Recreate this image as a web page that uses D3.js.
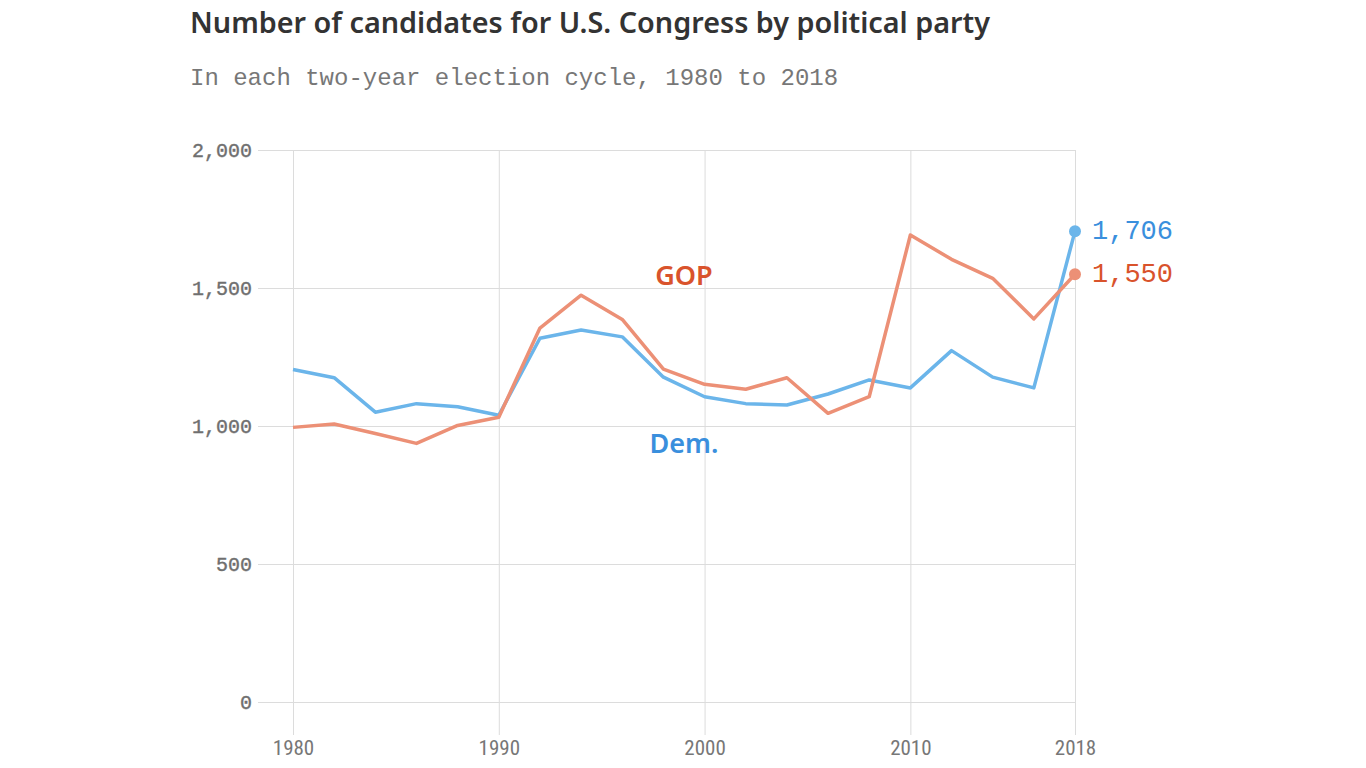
<!DOCTYPE html>
<html>
<head>
<meta charset="utf-8">
<script src="https://cdn.jsdelivr.net/npm/d3@7"></script>
<style>
  html, body { margin: 0; padding: 0; background: #fff; }
  svg { display: block; }
</style>
</head>
<body>
<svg id="chart" width="1366" height="768"></svg>
<script>
const years = [1980,1982,1984,1986,1988,1990,1992,1994,1996,1998,2000,2002,2004,2006,2008,2010,2012,2014,2016,2018];
const demValues = [1205,1175,1050,1081,1070,1039,1318,1348,1323,1177,1106,1081,1076,1116,1167,1138,1273,1177,1138,1706];
const gopValues = [995,1007,973,937,1002,1032,1355,1474,1386,1206,1151,1133,1175,1046,1106,1692,1604,1535,1388,1550];
const xTicks = [1980,1990,2000,2010,2018];
const yTicks = [0,500,1000,1500,2000];
const titleText = "Number of candidates for U.S. Congress by political party";
const subtitleText = "In each two-year election cycle, 1980 to 2018";

const svg = d3.select("#chart");
const x = d3.scaleLinear().domain([1980, 2018]).range([293, 1075]);
const y = d3.scaleLinear().domain([0, 2000]).range([702, 150]);

const demColor = "#6bb5ea", gopColor = "#ec9076";
const demText = "#3a8fdd", gopText = "#d9532c";

// Title
const title = svg.append("text").attr("x", 190).attr("y", 33)
  .attr("font-family", "'Noto Sans', sans-serif").attr("font-weight", 600)
  .attr("font-size", 28).attr("fill", "#333").text(titleText);
const tw = title.node().getComputedTextLength();
if (Math.abs(tw - 800) > 10) title.attr("textLength", 800).attr("lengthAdjust", "spacingAndGlyphs");

svg.append("text").attr("x", 190).attr("y", 85)
  .attr("font-family", "'Liberation Mono', monospace")
  .attr("font-size", 24).attr("fill", "#777").text(subtitleText);

// Y axis grid
const yAxis = d3.axisLeft(y).tickValues(yTicks).tickSize(1075 - 258)
  .tickFormat(d3.format(","));
const gy = svg.append("g").attr("transform", "translate(1075,0)").call(yAxis);
gy.select(".domain").remove();
gy.selectAll(".tick line").attr("stroke", "#dcdcdc").attr("stroke-width", 1);
gy.selectAll(".tick text").attr("x", -(1075 - 252)).attr("dy", "0.32em")
  .attr("font-family", "'Liberation Mono', monospace").attr("font-size", 20)
  .attr("fill", "#6f6f6f").attr("stroke", "#6f6f6f").attr("stroke-width", 0.4);

// X axis grid
const xAxis = d3.axisBottom(x).tickValues(xTicks).tickSize(735 - 150)
  .tickFormat(d3.format("d"));
const gx = svg.append("g").attr("transform", "translate(0,150)").call(xAxis);
gx.select(".domain").remove();
gx.selectAll(".tick line").attr("stroke", "#dcdcdc").attr("stroke-width", 1);
gx.selectAll(".tick text").attr("y", 605).attr("dy", 0)
  .attr("font-family", "'Liberation Sans Narrow', 'Roboto Condensed', sans-serif")
  .attr("font-size", 21).attr("fill", "#777");

// Lines
const line = d3.line().x((d, i) => x(years[i])).y(d => y(d));
svg.append("path").datum(demValues).attr("d", line).attr("fill", "none")
  .attr("stroke", demColor).attr("stroke-width", 3.5).attr("stroke-linejoin", "round");
svg.append("path").datum(gopValues).attr("d", line).attr("fill", "none")
  .attr("stroke", gopColor).attr("stroke-width", 3.5).attr("stroke-linejoin", "round");

// End dots and labels
const last = years.length - 1;
[[demValues, demColor, demText], [gopValues, gopColor, gopText]].forEach(([vals, c, tc]) => {
  svg.append("circle").attr("cx", x(years[last])).attr("cy", y(vals[last])).attr("r", 6).attr("fill", c);
  svg.append("text").attr("x", x(years[last]) + 17).attr("y", y(vals[last])).attr("dy", "0.28em")
    .attr("font-family", "'Liberation Mono', monospace").attr("font-size", 27)
    .attr("fill", tc).text(d3.format(",")(vals[last]));
});

// Series labels
svg.append("text").attr("x", x(1999)).attr("y", 285).attr("text-anchor", "middle")
  .attr("font-family", "'Noto Sans', sans-serif").attr("font-weight", 600)
  .attr("font-size", 27).attr("fill", gopText).text("GOP");
svg.append("text").attr("x", x(1999)).attr("y", 453).attr("text-anchor", "middle")
  .attr("font-family", "'Noto Sans', sans-serif").attr("font-weight", 600)
  .attr("font-size", 27).attr("fill", demText).text("Dem.");
</script>
</body>
</html>
